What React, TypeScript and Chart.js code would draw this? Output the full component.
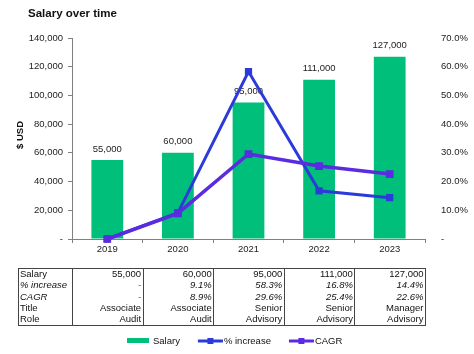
import React, { useEffect, useRef } from "react";
import { Chart, registerables } from "chart.js";

Chart.register(...registerables);

const years = ["2019", "2020", "2021", "2022", "2023"];
const salary = [55000, 60000, 95000, 111000, 127000];
const pctIncrease: (number | null)[] = [null, 9.1, 58.3, 16.8, 14.4];
const cagr: (number | null)[] = [null, 8.9, 29.6, 25.4, 22.6];
const titles = ["Associate", "Associate", "Senior", "Senior", "Manager"];
const roles = ["Audit", "Audit", "Advisory", "Advisory", "Advisory"];

const GREEN = "#00BF7A";
const BLUE = "#2B3BD9";
const PURPLE = "#5A2BE0";
const FONT = "'Liberation Sans', Arial, sans-serif";
const FS = 9.5;

const fmtNum = (v: number) => v.toLocaleString("en-US");
const fmtPct = (v: number | null) => (v == null ? "-" : v.toFixed(1) + "%");

export default function App() {
  const ref = useRef<HTMLCanvasElement>(null);

  useEffect(() => {
    document.body.style.margin = "0";
    const canvas = ref.current!;

    const extras = {
      id: "extras",
      afterDatasetDraw(chart: any, args: any) {
        if (args.index !== 0) return;
        const ctx = chart.ctx;
        const meta = chart.getDatasetMeta(0);
        ctx.save();
        ctx.font = `${FS}px ${FONT}`;
        ctx.fillStyle = "#222";
        ctx.textAlign = "center";
        ctx.textBaseline = "middle";
        meta.data.forEach((bar: any, i: number) => {
          ctx.fillText(fmtNum(salary[i]), bar.x, bar.y - 11);
        });
        ctx.restore();
      },
      afterDraw(chart: any) {
        const ctx = chart.ctx;
        const ca = chart.chartArea;
        const xs = chart.scales.x;
        ctx.save();
        // Title
        ctx.font = `bold 11.5px ${FONT}`;
        ctx.fillStyle = "#111";
        ctx.textAlign = "left";
        ctx.textBaseline = "middle";
        ctx.fillText("Salary over time", 28, 14);
        // Y axis title
        ctx.save();
        ctx.translate(20, 135);
        ctx.rotate(-Math.PI / 2);
        ctx.font = `bold ${FS}px ${FONT}`;
        ctx.textAlign = "center";
        ctx.fillText("$ USD", 0, 0);
        ctx.restore();

        // Table
        const catW = (ca.right - ca.left) / years.length;
        const top = ca.bottom + 29;
        const rowH = 11.3;
        const bottom = top + rowH * 5 + 0.5;
        const left = 18;
        ctx.strokeStyle = "#444";
        ctx.lineWidth = 1;
        ctx.strokeRect(left + 0.5, top + 0.5, ca.right - left, bottom - top);
        for (let i = 0; i < years.length; i++) {
          const xb = Math.round(xs.getPixelForValue(i) - catW / 2) + 0.5;
          ctx.beginPath();
          ctx.moveTo(xb, top);
          ctx.lineTo(xb, bottom);
          ctx.stroke();
        }
        const rows: { label: string; italic: boolean; vals: string[] }[] = [
          { label: "Salary", italic: false, vals: salary.map(fmtNum) },
          { label: "% increase", italic: true, vals: pctIncrease.map(fmtPct) },
          { label: "CAGR", italic: true, vals: cagr.map(fmtPct) },
          { label: "Title", italic: false, vals: titles },
          { label: "Role", italic: false, vals: roles },
        ];
        ctx.fillStyle = "#111";
        ctx.textBaseline = "middle";
        rows.forEach((r, ri) => {
          const y = top + 6.5 + ri * rowH;
          ctx.font = `${r.italic ? "italic " : ""}${FS}px ${FONT}`;
          ctx.textAlign = "left";
          ctx.fillText(r.label, left + 2, y);
          ctx.textAlign = "right";
          r.vals.forEach((v, i) => {
            const xr = xs.getPixelForValue(i) + catW / 2 - 1.5;
            ctx.fillText(v, xr, y);
          });
        });

        // Legend
        const ly = 341;
        ctx.font = `${FS}px ${FONT}`;
        ctx.textAlign = "left";
        ctx.textBaseline = "middle";
        let lx = 127;
        ctx.fillStyle = GREEN;
        ctx.fillRect(lx, ly - 3, 22, 5);
        ctx.fillStyle = "#111";
        ctx.fillText("Salary", lx + 26, ly);
        lx += 26 + ctx.measureText("Salary").width + 18;
        const lineItem = (color: string, label: string) => {
          ctx.strokeStyle = color;
          ctx.lineWidth = 3;
          ctx.beginPath();
          ctx.moveTo(lx, ly);
          ctx.lineTo(lx + 25, ly);
          ctx.stroke();
          ctx.fillStyle = color;
          ctx.fillRect(lx + 12.5 - 3, ly - 3, 6, 6);
          ctx.fillStyle = "#111";
          ctx.fillText(label, lx + 26, ly);
          lx += 26 + ctx.measureText(label).width + 18;
        };
        lineItem(BLUE, "% increase");
        lineItem(PURPLE, "CAGR");
        ctx.restore();
      },
    };

    const chart = new Chart(canvas, {
      type: "bar",
      data: {
        labels: years,
        datasets: [
          {
            type: "bar",
            label: "Salary",
            data: salary,
            backgroundColor: GREEN,
            barPercentage: 0.45,
            categoryPercentage: 1,
            yAxisID: "y",
            order: 2,
          } as any,
          {
            type: "line",
            label: "% increase",
            data: pctIncrease.map((v) => v ?? 0),
            borderColor: BLUE,
            backgroundColor: BLUE,
            borderWidth: 3,
            pointStyle: "rect",
            pointRadius: 3,
            pointHoverRadius: 3,
            yAxisID: "y1",
            order: 1,
            clip: false,
          } as any,
          {
            type: "line",
            label: "CAGR",
            data: cagr.map((v) => v ?? 0),
            borderColor: PURPLE,
            backgroundColor: PURPLE,
            borderWidth: 3.5,
            pointStyle: "rect",
            pointRadius: 3,
            pointHoverRadius: 3,
            yAxisID: "y1",
            order: 0,
            clip: false,
          } as any,
        ],
      },
      options: {
        responsive: false,
        animation: false,
        devicePixelRatio: 1,
        layout: { padding: { top: 38, left: 0, right: 0, bottom: 0 } },
        plugins: {
          legend: { display: false },
          tooltip: { enabled: false },
          title: { display: false },
        },
        scales: {
          x: {
            offset: true,
            grid: {
              display: true,
              offset: true,
              drawOnChartArea: false,
              drawTicks: true,
              tickLength: 4,
              color: "#808080",
            },
            border: { color: "#808080" },
            ticks: { font: { family: FONT, size: FS }, color: "#222", padding: 1 },
            afterFit: (s: any) => {
              s.height = 115;
            },
          },
          y: {
            position: "left",
            min: 0,
            max: 140000,
            ticks: {
              stepSize: 20000,
              font: { family: FONT, size: FS },
              color: "#222",
              padding: 5,
              callback: (v: any) => (v === 0 ? "-" : fmtNum(Number(v))),
            },
            grid: {
              display: true,
              drawOnChartArea: false,
              drawTicks: true,
              tickLength: 4,
              color: "#808080",
            },
            border: { color: "#808080" },
            afterFit: (s: any) => {
              s.width = 72;
            },
          },
          y1: {
            position: "right",
            min: 0,
            max: 70,
            ticks: {
              stepSize: 10,
              font: { family: FONT, size: FS },
              color: "#222",
              padding: 8,
              callback: (v: any) => (v === 0 ? "-" : Number(v).toFixed(1) + "%"),
            },
            grid: { display: false, drawOnChartArea: false },
            border: { display: false },
            afterFit: (s: any) => {
              s.width = 49;
            },
          },
        },
      } as any,
      plugins: [extras],
    });

    return () => chart.destroy();
  }, []);

  return (
    <div style={{ width: 474, height: 354, background: "#fff" }}>
      <canvas ref={ref} width={474} height={354} />
    </div>
  );
}
